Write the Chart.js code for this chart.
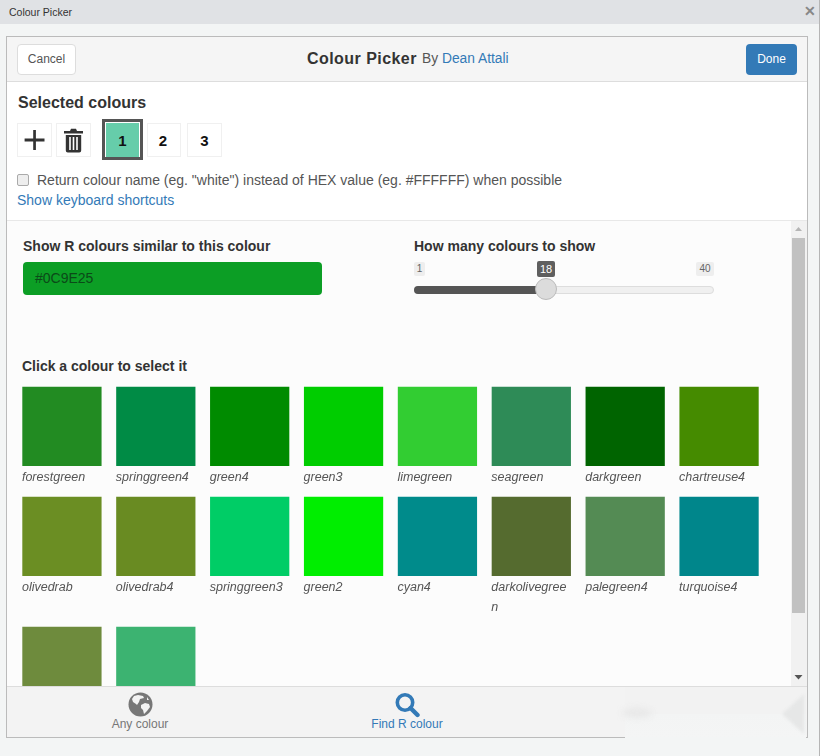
<!DOCTYPE html>
<html>
<head>
<meta charset="utf-8">
<title>Colour Picker</title>
<script src="https://cdn.jsdelivr.net/npm/chart.js@4/dist/chart.umd.min.js"></script>
<style>
html, body { margin: 0; padding: 0; background: #f3f5f5; }
body { width: 820px; height: 756px; overflow: hidden; position: relative; font-family: "Liberation Sans", Arial, sans-serif; color: #333; font-size: 14px; }
.abs { position: absolute; white-space: nowrap; }
.box { position: absolute; box-sizing: border-box; }
.link { color: #337ab7; }
.h { font-weight: bold; }
.tool { position: absolute; box-sizing: border-box; top: 123px; height: 34px; background: #fff; border: 1px solid #f0f0f0; text-align: center; font: bold 15px/32px "Liberation Sans", Arial, sans-serif; color: #111; }
.tick { position: absolute; top: 262px; height: 14px; background: #eee; border-radius: 2px; font-size: 10px; line-height: 14px; text-align: center; color: #666; }
#grid-wrap { position: absolute; left: 0; top: 380px; width: 790px; height: 306px; overflow: hidden; }
</style>
</head>
<body>
<!-- window title bar -->
<div class="box" style="left:0;top:0;width:819px;height:24px;background:#e0e2e5"></div>
<div class="abs" style="left:9px;top:6px;font-size:10.5px;line-height:13px">Colour Picker</div>
<div class="abs" style="left:804px;top:3px;font-size:14px;line-height:17px;font-weight:bold;color:#888">&#10005;</div>
<div class="box" style="left:819px;top:0;width:1px;height:756px;background:#b5b5b5"></div>

<!-- dialog -->
<div class="box" style="left:6px;top:36px;width:802px;height:702px;border:1px solid #bbb;background:#fcfcfc"></div>
<div class="box" style="left:7px;top:37px;width:800px;height:45px;background:#f5f5f5;border-bottom:1px solid #ddd"></div>
<div class="box" style="left:7px;top:82px;width:800px;height:139px;background:#fff;border-bottom:1px solid #e8e8e8"></div>

<div class="box" style="left:17px;top:44px;width:59px;height:31px;background:#fff;border:1px solid #ddd;border-radius:4px;text-align:center;font-size:12px;line-height:29px;color:#555">Cancel</div>
<div class="abs" style="left:307px;top:50px;font-size:16px;line-height:18px;font-weight:bold;letter-spacing:.45px">Colour Picker</div>
<div class="abs" style="left:422px;top:51px;font-size:13.8px;line-height:16px;color:#555">By <span class="link">Dean Attali</span></div>
<div class="box" style="left:746px;top:44px;width:51px;height:31px;background:#337ab7;border-radius:4px;text-align:center;font-size:12px;line-height:31px;color:#fff">Done</div>

<!-- selected colours -->
<div class="abs h" style="left:18px;top:94px;font-size:16px;line-height:18px">Selected colours</div>
<div class="tool" style="left:17px;width:35px">
  <svg width="33" height="32" viewBox="0 0 33 32"><path d="M15.2 6h2.7v8.6h8.6v2.8h-8.6V26h-2.7v-8.6H6.6v-2.8h8.6z" fill="#333"/></svg>
</div>
<div class="tool" style="left:56px;width:35px">
  <svg width="33" height="32" viewBox="0 0 33 32"><path d="M7 7h6l1-2.2h5l1 2.2h6v2.5H7z M8.8 11h15.4v15.5a2 2 0 0 1-2 2H10.8a2 2 0 0 1-2-2z" fill="#333"/><path d="M13 13v13M16.5 13v13M20 13v13" stroke="#fff" stroke-width="1.6"/></svg>
</div>
<div class="box" style="left:102px;top:119px;width:41px;height:41px;border:3px solid #555;background:#fff"></div>
<div class="tool" style="left:106px;width:33px;background:#66cdaa;border:none;line-height:36px">1</div>
<div class="tool" style="left:147px;width:34px;line-height:34px;text-indent:-2px">2</div>
<div class="tool" style="left:187px;width:35px;line-height:34px">3</div>
<div class="box" style="left:17px;top:174px;width:12px;height:12px;border:1px solid #aaa;border-radius:2px;background:#eee"></div>
<div class="abs" style="left:37px;top:172px;line-height:16px;color:#555">Return colour name (eg. "white") instead of HEX value (eg. #FFFFFF) when possible</div>
<div class="abs link" style="left:17px;top:192px;line-height:16px">Show keyboard shortcuts</div>

<!-- options -->
<div class="abs h" style="left:23px;top:238px;line-height:16px">Show R colours similar to this colour</div>
<div class="box" style="left:23px;top:262px;width:299px;height:33px;background:#0c9e25;border-radius:4px;font-size:14px;line-height:32px;padding-left:12px;color:#0b4a18">#0C9E25</div>
<div class="abs h" style="left:414px;top:238px;line-height:16px">How many colours to show</div>
<div class="tick" style="left:414px;width:11px">1</div>
<div class="tick" style="left:537px;top:261px;width:18px;height:16px;line-height:16px;background:#5f5f5f;color:#fff;font-size:11px">18</div>
<div class="tick" style="left:696px;width:18px">40</div>
<div class="box" style="left:414px;top:286px;width:300px;height:8px;background:#f0f0f0;border:1px solid #ddd;border-radius:4px"></div>
<div class="box" style="left:414px;top:286px;width:132px;height:8px;background:#555;border-radius:4px 0 0 4px"></div>
<div class="box" style="left:535px;top:278px;width:22px;height:22px;background:#dcdcdc;border:1px solid #bbb;border-radius:50%"></div>
<div class="abs h" style="left:22px;top:358px;line-height:16px">Click a colour to select it</div>

<!-- swatch grid -->
<div id="grid-wrap"><canvas id="grid-chart" width="790" height="306"></canvas></div>

<!-- scrollbar -->
<div class="box" style="left:791px;top:221px;width:16px;height:465px;background:#f1f1f1"></div>
<div class="box" style="left:792px;top:238px;width:13px;height:375px;background:#c1c1c1"></div>
<svg class="box" style="left:791px;top:224px" width="15" height="10"><path d="M4 7h7L7.5 3z" fill="#b5b5b5"/></svg>
<svg class="box" style="left:791px;top:672px" width="15" height="10"><path d="M3.5 3h8L7.5 7.5z" fill="#555"/></svg>

<!-- footer tabs -->
<div class="box" style="left:7px;top:686px;width:800px;height:51px;background:#f3f3f3;border-top:1px solid #ddd"></div>
<svg class="box" style="left:128px;top:692px" width="25" height="25" viewBox="0 0 25 25">
  <circle cx="12.5" cy="12.5" r="12" fill="#777"/>
  <path d="M6 4l4-1 5 1 1 2-4 1-1 3-2 3-1-1-3-2-1-3z M13 13l4-2 4 1 1 3-3 4-3 3-1-4-2-2z M19 5l2 3-2 0z" fill="#f3f3f3"/>
</svg>
<div class="abs" style="left:40px;top:717px;width:200px;text-align:center;font-size:12px;line-height:15px;color:#777">Any colour</div>
<svg class="box" style="left:394px;top:692px" width="26" height="26" viewBox="0 0 26 26">
  <circle cx="11" cy="10.5" r="7.7" fill="none" stroke="#337ab7" stroke-width="3.6"/>
  <path d="M16.5 16l7 7" stroke="#337ab7" stroke-width="4.4" stroke-linecap="round"/>
</svg>
<div class="abs link" style="left:307px;top:717px;width:200px;text-align:center;font-size:12px;line-height:15px">Find R colour</div>

<!-- smudged corner of the screenshot -->
<div class="box" style="left:625px;top:687px;width:181px;height:27px;background:#f2f2f2"></div>
<div class="box" style="left:625px;top:714px;width:181px;height:24px;background:linear-gradient(#f3f4f4,#f4f5f5)"></div>
<div class="box" style="left:625px;top:737px;width:175px;height:2px;background:#f3f5f5"></div>
<div class="box" style="left:622px;top:708px;width:30px;height:10px;border-radius:50%;background:#e8e8e8;filter:blur(3px)"></div>
<svg class="box" style="left:778px;top:690px;filter:blur(1.5px)" width="28" height="50"><path d="M4 24L26 4v40z" fill="#e6e7e7"/></svg>

<script>
const colourNames = ['forestgreen', 'springgreen4', 'green4', 'green3', 'limegreen', 'seagreen', 'darkgreen', 'chartreuse4',
    'olivedrab', 'olivedrab4', 'springgreen3', 'green2', 'cyan4', 'darkolivegreen', 'palegreen4', 'turquoise4',
    'darkolivegreen4', 'mediumseagreen'];
const colourValues = ['#228B22', '#008B45', '#008B00', '#00CD00', '#32CD32', '#2E8B57', '#006400', '#458B00',
    '#6B8E23', '#698B22', '#00CD66', '#00EE00', '#008B8B', '#556B2F', '#548B54', '#00868B',
    '#6E8B3D', '#3CB371'];
const columns = ['1', '2', '3', '4', '5', '6', '7', '8'];

const SWATCH = 78.6;
const ROW_PITCH = 90;
const LINE = 20;
const labelFont = 'italic 12.5px "Liberation Sans", Arial, sans-serif';

// names wider than the swatch break mid word, same as the shiny widget does
function wrapName(ctx, name) {
    ctx.font = labelFont;
    const lines = [];
    let current = '';
    for (const ch of name) {
        if (ctx.measureText(current + ch).width > SWATCH) {
            lines.push(current);
            current = ch;
        } else {
            current += ch;
        }
    }
    lines.push(current);
    return lines;
}

const ctx = document.getElementById('grid-chart').getContext('2d');
const wrapped = colourNames.map(name => wrapName(ctx, name));

// one dataset per row, a row is as tall as its longest name
const datasets = [];
let rowTop = 7;
for (let i = 0; i < colourNames.length; i += columns.length) {
    const rowLines = Math.max(...wrapped.slice(i, i + columns.length).map(l => l.length));
    const top = rowTop;
    datasets.push({
        data: columns.map((c, j) => (i + j < colourNames.length ? [top, top + SWATCH] : null)),
        backgroundColor: colourValues.slice(i, i + columns.length),
        grouped: false,
        barThickness: SWATCH,
        borderWidth: 0,
        startIndex: i
    });
    rowTop += ROW_PITCH + rowLines * LINE;
}

const nameLabels = {
    id: 'nameLabels',
    afterDatasetsDraw(chart) {
        const c = chart.ctx;
        c.save();
        c.font = labelFont;
        c.fillStyle = '#555';
        c.textBaseline = 'alphabetic';
        chart.data.datasets.forEach((ds, d) => {
            chart.getDatasetMeta(d).data.forEach((bar, j) => {
                const lines = wrapped[ds.startIndex + j];
                if (!lines || !ds.data[j]) return;
                const left = bar.x - 40;
                const bottom = chart.scales.y.getPixelForValue(ds.data[j][1]);
                lines.forEach((line, n) => c.fillText(line, left, bottom + 15.5 + n * LINE));
            });
        });
        c.restore();
    }
};

new Chart(ctx, {
    type: 'bar',
    data: { labels: columns, datasets: datasets },
    plugins: [nameLabels],
    options: {
        responsive: false,
        animation: false,
        layout: { padding: { left: 15, right: 24, top: 0, bottom: 0 } },
        scales: {
            x: { display: false },
            y: { display: false, reverse: true, min: 0, max: 306 }
        },
        plugins: {
            legend: { display: false },
            tooltip: { enabled: false }
        }
    }
});
</script>
</body>
</html>
